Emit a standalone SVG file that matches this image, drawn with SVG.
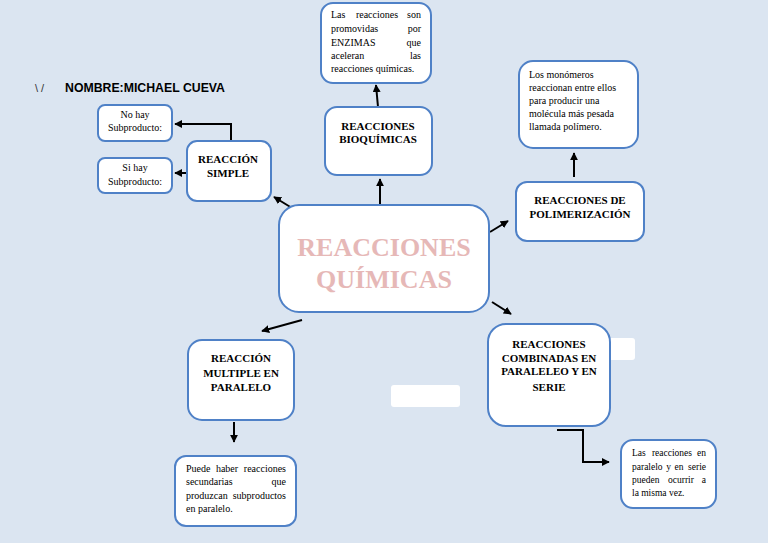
<svg xmlns="http://www.w3.org/2000/svg" width="768" height="543" viewBox="0 0 768 543">
<defs>
<marker id="ah" viewBox="0 0 10 10" refX="9" refY="5" markerWidth="4" markerHeight="4" orient="auto" markerUnits="strokeWidth">
<path d="M0,0 L10,5 L0,10 z" fill="#000"/>
</marker>
<style>
.box{fill:#fff;stroke:#4f81c7;stroke-width:2}
.t{font-family:"Liberation Serif","Times New Roman",serif;font-size:10px;fill:#000}
.s{font-size:9.5px}
.e{text-anchor:end}
.m{text-anchor:middle}
.b{font-family:"Liberation Serif","Times New Roman",serif;font-size:11px;font-weight:bold;fill:#000;text-anchor:middle}
.c{stroke:#000;stroke-width:2;fill:none;marker-end:url(#ah)}
.blank{fill:#fff}
</style>
</defs>
<rect width="768" height="543" fill="#dbe5f1"/>
<text x="35" y="92" font-family="Liberation Sans,Arial,sans-serif" font-size="11" fill="#333">\ /</text>
<text x="65" y="92" font-family="Liberation Sans,Arial,sans-serif" font-size="13" font-weight="bold" fill="#000" textLength="160" lengthAdjust="spacingAndGlyphs">NOMBRE:MICHAEL CUEVA</text>
<rect class="blank" x="391" y="385" width="69" height="22" rx="3"/>
<rect class="blank" x="608" y="338" width="27" height="22" rx="3"/>
<g id="connectors">
<path class="c" d="M378,107 L376,85"/>
<path class="c" d="M380,204 L380,179"/>
<path class="c" d="M231,141 L231,124 L175,124"/>
<path class="c" d="M186,173 L175,173"/>
<path class="c" d="M292,208 L274,197"/>
<path class="c" d="M490,232 L508,221"/>
<path class="c" d="M574,177 L574,153"/>
<path class="c" d="M302,320 L262,331"/>
<path class="c" d="M234,422 L234,442"/>
<path class="c" d="M492,302 L511,314"/>
<path class="c" d="M557,430 L583,430 L583,462 L609,462"/>
</g>
<g id="central">
<rect class="box" x="279" y="205" width="210" height="107" rx="20"/>
<text x="384" y="256" font-family="Liberation Serif,Times New Roman,serif" font-size="26" font-weight="bold" fill="#e6b8b7" text-anchor="middle">REACCIONES</text>
<text x="384" y="288" font-family="Liberation Serif,Times New Roman,serif" font-size="26" font-weight="bold" fill="#e6b8b7" text-anchor="middle">QUÍMICAS</text>
</g>
<g id="enzimas">
<rect class="box" x="321" y="3" width="110" height="80" rx="12"/>
<text class="t" x="331" y="18">Las</text><text class="t m" x="377" y="18">reacciones</text><text class="t e" x="421" y="18">son</text>
<text class="t" x="331" y="32">promovidas</text><text class="t e" x="421" y="32">por</text>
<text class="t" x="331" y="46">ENZIMAS</text><text class="t e" x="421" y="46">que</text>
<text class="t" x="331" y="59">aceleran</text><text class="t e" x="421" y="59">las</text>
<text class="t" x="331" y="72">reacciones químicas.</text>
</g>
<g id="bioquimicas">
<rect class="box" x="325" y="107" width="107" height="68" rx="12"/>
<text class="b" x="378" y="130">REACCIONES</text>
<text class="b" x="378" y="143">BIOQUÍMICAS</text>
</g>
<g id="simple">
<rect class="box" x="187" y="141" width="84" height="60" rx="10"/>
<text class="b" x="228" y="163">REACCIÓN</text>
<text class="b" x="228" y="177">SIMPLE</text>
</g>
<g id="nohay">
<rect class="box" x="98" y="105" width="74" height="36" rx="7"/>
<text class="t m" x="135" y="118">No hay</text>
<text class="t m" x="135" y="131">Subproducto:</text>
</g>
<g id="sihay">
<rect class="box" x="98" y="158" width="74" height="35" rx="7"/>
<text class="t m" x="135" y="171">Si hay</text>
<text class="t m" x="135" y="185">Subproducto:</text>
</g>
<g id="polimerizacion">
<rect class="box" x="516" y="182" width="128" height="59" rx="11"/>
<text class="b" x="580" y="204">REACCIONES DE</text>
<text class="b" x="580" y="218">POLIMERIZACIÓN</text>
</g>
<g id="monomeros">
<rect class="box" x="519" y="61" width="119" height="87" rx="14"/>
<text class="t" x="529" y="78">Los monómeros</text>
<text class="t" x="529" y="91">reaccionan entre ellos</text>
<text class="t" x="529" y="104">para producir una</text>
<text class="t" x="529" y="117">molécula más pesada</text>
<text class="t" x="529" y="130">llamada polímero.</text>
</g>
<g id="multiple">
<rect class="box" x="188" y="340" width="106" height="80" rx="14"/>
<text class="b" x="241" y="362">REACCIÓN</text>
<text class="b" x="241" y="377">MULTIPLE EN</text>
<text class="b" x="241" y="391">PARALELO</text>
</g>
<g id="puede">
<rect class="box" x="175" y="456" width="121" height="70" rx="11"/>
<text class="t" x="186" y="472">Puede</text><text class="t m" x="227" y="472">haber</text><text class="t e" x="286" y="472">reacciones</text>
<text class="t" x="186" y="485">secundarias</text><text class="t e" x="286" y="485">que</text>
<text class="t" x="186" y="499">produzcan</text><text class="t e" x="286" y="499">subproductos</text>
<text class="t" x="186" y="512">en paralelo.</text>
</g>
<g id="combinadas">
<rect class="box" x="488" y="324" width="122" height="102" rx="18"/>
<text class="b" x="549" y="348">REACCIONES</text>
<text class="b" x="549" y="362">COMBINADAS EN</text>
<text class="b" x="549" y="375">PARALELEO Y EN</text>
<text class="b" x="549" y="391">SERIE</text>
</g>
<g id="serie">
<rect class="box" x="621" y="440" width="95" height="68" rx="12"/>
<text class="t s" x="632" y="456">Las</text><text class="t s m" x="672" y="456">reacciones</text><text class="t s e" x="706" y="456">en</text>
<text class="t s" x="632" y="470">paralelo</text><text class="t s m" x="668.5" y="470">y</text><text class="t s m" x="679" y="470">en</text><text class="t s e" x="706" y="470">serie</text>
<text class="t s" x="632" y="483">pueden</text><text class="t s m" x="681" y="483">ocurrir</text><text class="t s e" x="706" y="483">a</text>
<text class="t s" x="632" y="496">la misma vez.</text>
</g>
</svg>
